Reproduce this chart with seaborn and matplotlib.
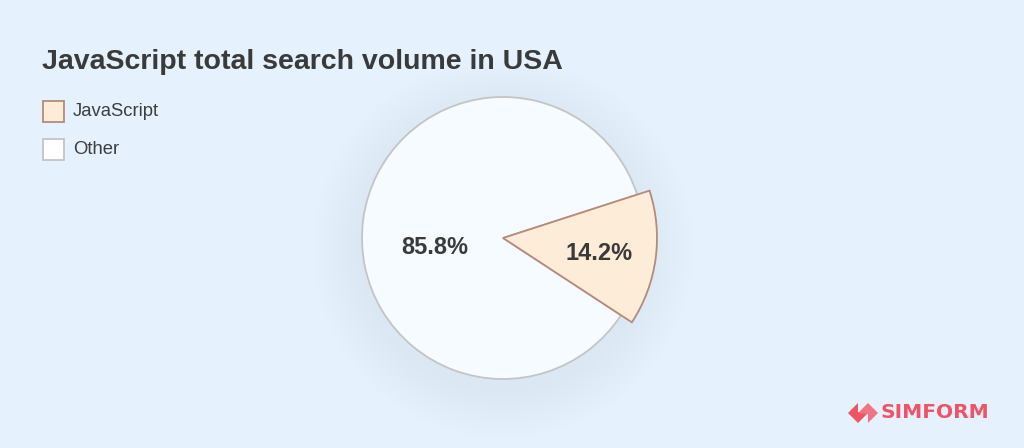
import numpy as np
import matplotlib
matplotlib.use("Agg")
import matplotlib.pyplot as plt
from matplotlib.patches import Circle, Rectangle, Polygon
import seaborn as sns

# data
labels = ["JavaScript", "Other"]
shares = [14.2, 85.8]
colors = ["#fdecd7", "#f6fbff"]
edges = ["#b58a7b", "#c4c4c4"]
title = "JavaScript total search volume in USA"

sns.set_theme(style="white")
plt.rcParams["font.family"] = ["Liberation Sans", "DejaVu Sans"]

BG = "#e5f2fd"
fig = plt.figure(figsize=(10.24, 4.48), dpi=100, facecolor=BG)
ax = fig.add_axes([0, 0, 1, 1])
ax.set_facecolor(BG)

# pixel-like coordinates, y up
cx, cy = 503, 448 - 238
r_other = 141
r_js = 154

# soft glow behind the pie
for i, a in enumerate(np.linspace(0.03, 0.004, 10)):
    ax.add_patch(Circle((cx, cy - 10), r_other + 4 + i * 5, color="#c6dcf4",
                        alpha=a, lw=0, zorder=0))

wedges, _ = ax.pie(shares, colors=colors, startangle=-33.2, counterclock=True,
                   center=(cx, cy), radius=r_other, frame=True,
                   wedgeprops=dict(linewidth=1.3))
for w, ec in zip(wedges, edges):
    w.set_edgecolor(ec)
wedges[0].set_radius(r_js)
wedges[0].set_zorder(3)
wedges[1].set_zorder(2)

# percentage labels
for w, s, dist in zip(wedges, shares, [0.63, 0.49]):
    mid = np.deg2rad((w.theta1 + w.theta2) / 2)
    rr = w.r * dist
    tx = cx + rr * np.cos(mid)
    ty = cy + rr * np.sin(mid) - 3
    if s > 50:
        ty -= 16
    ax.text(tx, ty, f"{s:.1f}%", ha="center", va="center", fontsize=17,
            fontweight="bold", color="#3a3a3a", zorder=5)

ax.set_xlim(0, 1024)
ax.set_ylim(0, 448)
ax.set_aspect("equal")
ax.axis("off")

# title
ax.text(42, 448 - 62, title, ha="left", va="center", fontsize=20.5,
        fontweight="bold", color="#3a3a3a")

# legend
for i, (lab, c, ec) in enumerate(zip(labels, colors, edges)):
    ly = 448 - 111 - i * 38
    ax.add_patch(Rectangle((43, ly - 10.5), 21, 21, facecolor=c if i == 0 else "#ffffff",
                           edgecolor=ec, lw=1.3))
    ax.text(73, ly, lab, ha="left", va="center", fontsize=13.3, color="#3d3d3d")

# logo
red = "#ee5465"
ax.add_patch(Polygon([(848, 448 - 413), (858, 448 - 403), (858, 448 - 412),
                      (868, 448 - 413), (858, 448 - 423)], color=red, lw=0))
ax.add_patch(Polygon([(878, 448 - 413), (868, 448 - 423), (868, 448 - 414),
                      (858, 448 - 413), (868, 448 - 403)], color="#f07583", lw=0))
ax.text(881, 448 - 413, "SIMFORM", ha="left", va="center", fontsize=14.5,
        fontweight="bold", color=red, family="DejaVu Sans")

fig.savefig("out.png", dpi=100, facecolor=BG)
